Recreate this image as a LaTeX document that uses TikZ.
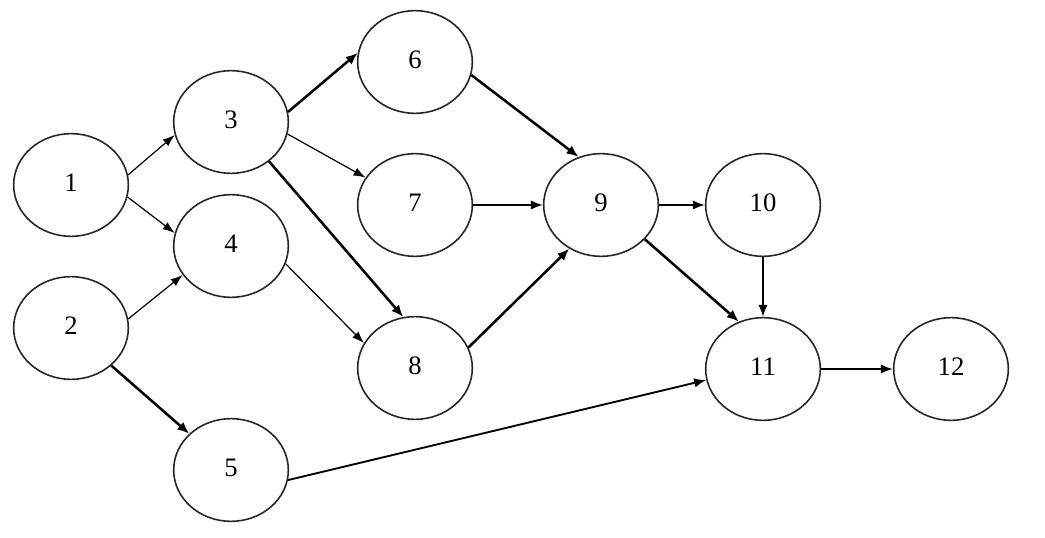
\documentclass[tikz,border=0pt]{standalone}
\usepackage{fontspec}
\setmainfont{Liberation Serif}
\usetikzlibrary{shapes.geometric,arrows.meta}
\begin{document}
\begin{tikzpicture}[x=0.75pt,y=-0.75pt,
  stage/.style={ellipse,draw=black!85,line width=1.2pt,minimum width=86pt,minimum height=77pt,inner sep=0pt,font=\fontsize{20}{21}\selectfont},
  thinarrow/.style={line width=0.9pt,-{Latex[length=9pt,width=6.5pt]}},
  midarrow/.style={line width=1.4pt,-{Latex[length=9pt,width=7pt]}},
  thickarrow/.style={line width=1.9pt,-{Latex[length=9pt,width=7.5pt]}}]
\useasboundingbox (0,0) rectangle (1045,538);
\node[stage] (n1) at (71,185) {\raisebox{4pt}{1}};
\node[stage] (n2) at (71,328) {\raisebox{4pt}{2}};
\node[stage] (n3) at (231,122) {\raisebox{4pt}{3}};
\node[stage] (n4) at (231,246) {\raisebox{4pt}{4}};
\node[stage] (n5) at (231,470) {\raisebox{4pt}{5}};
\node[stage] (n6) at (415,62) {\raisebox{4pt}{6}};
\node[stage] (n7) at (415,205) {\raisebox{4pt}{7}};
\node[stage] (n8) at (415,368) {\raisebox{4pt}{8}};
\node[stage] (n9) at (601,205) {\raisebox{4pt}{9}};
\node[stage] (n10) at (763,205) {\raisebox{4pt}{10}};
\node[stage] (n11) at (763,369) {\raisebox{4pt}{11}};
\node[stage] (n12) at (951,369) {\raisebox{4pt}{12}};
\draw[thinarrow] (n1.10) -- (n3.193);
\draw[thinarrow] (n1.348) -- (n4.167);
\draw[thinarrow] (n2.9) -- (n4.211);
\draw[thickarrow] (n2.317) -- (n5.139);
\draw[thickarrow] (n3.10) -- (n6.171);
\draw[thinarrow] (n3.348) -- (n7.151);
\draw[thickarrow] (n3.314) -- (n8.103);
\draw[thinarrow] (n4.342) -- (n8.154);
\draw[midarrow] (n5.350) -- (n11.191);
\draw[thickarrow] (n6.347) -- (n9.115);
\draw[midarrow] (n7.east) -- (n9.west);
\draw[thickarrow] (n8.21) -- (n9.234);
\draw[midarrow] (n9.east) -- (n10.west);
\draw[thickarrow] (n9.322) -- (n11.117);
\draw[midarrow] (n10.south) -- (n11.north);
\draw[midarrow] (n11.east) -- (n12.west);
\end{tikzpicture}
\end{document}
